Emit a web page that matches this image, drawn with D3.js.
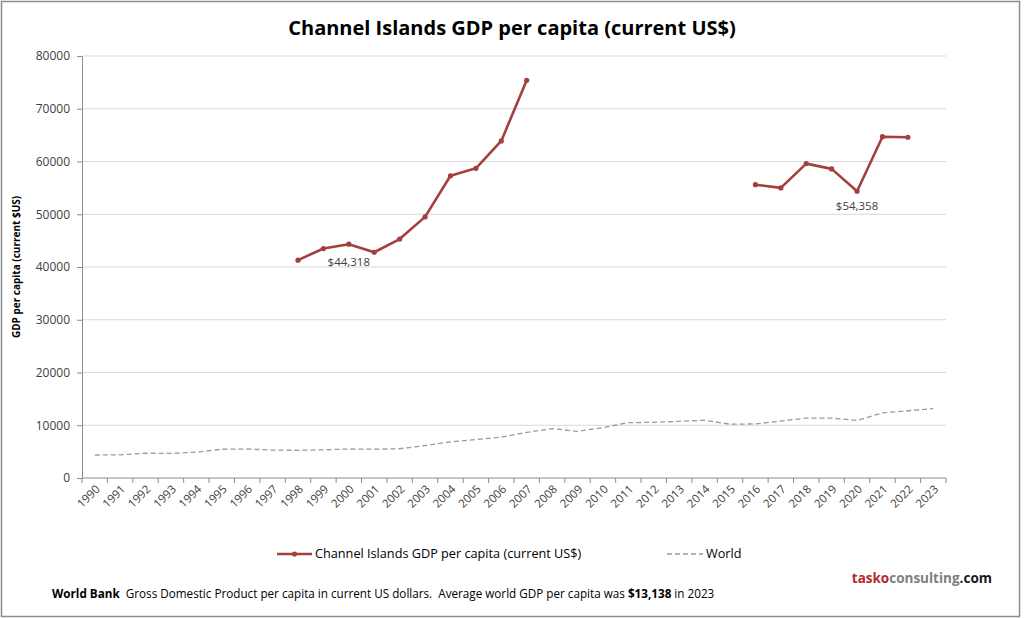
<!DOCTYPE html>
<html>
<head>
<meta charset="utf-8">
<script src="https://cdn.jsdelivr.net/npm/d3@7"></script>
<style>
  body { margin: 0; background: #fff; }
  text { font-family: "Open Sans", Lato, sans-serif; }
</style>
</head>
<body>
<div id="chart"></div>
<script>
// years on the category axis
var years = d3.range(1990, 2024).map(String);

// Channel Islands GDP per capita, current US$ (null = no data)
var channelValues = [null, null, null, null, null, null, null, null,
  41300, 43500, 44318, 42800, 45300, 49500, 57300, 58700, 63900, 75400,
  null, null, null, null, null, null, null, null,
  55600, 55000, 59600, 58600, 54358, 64700, 64600, null];

// World GDP per capita, current US$
var worldValues = [4350, 4400, 4700, 4650, 4900, 5450, 5500, 5300, 5250, 5350,
  5500, 5450, 5550, 6150, 6850, 7300, 7750, 8650, 9350, 8850,
  9550, 10500, 10550, 10750, 10950, 10200, 10250, 10800, 11350, 11350,
  10900, 12350, 12750, 13138];

var yTicks = [0, 10000, 20000, 30000, 40000, 50000, 60000, 70000, 80000];

// labelled points
var callouts = [{year: "2000", value: 44318, dx: 0, dy: 22}, {year: "2020", value: 54358, dx: 0, dy: 19}];

var width = 1024, height = 618;
var margin = {top: 56, right: 78, bottom: 140, left: 82};
var red = "#a3403d";

var svg = d3.select("#chart").append("svg")
    .attr("width", width)
    .attr("height", height);

svg.append("rect")
    .attr("x", 1.5).attr("y", 1.5)
    .attr("width", width - 6).attr("height", height - 3)
    .attr("fill", "#fff")
    .attr("stroke", "#8c8c8c")
    .attr("stroke-width", 1.5);

var x = d3.scaleBand()
    .domain(years)
    .range([margin.left, width - margin.right]);

var y = d3.scaleLinear()
    .domain([0, 80000])
    .range([height - margin.bottom, margin.top]);

// gridlines
svg.append("g")
    .selectAll("line")
    .data(yTicks.slice(1))
    .enter().append("line")
    .attr("x1", margin.left).attr("x2", width - margin.right)
    .attr("y1", function(d){ return y(d); })
    .attr("y2", function(d){ return y(d); })
    .attr("stroke", "#d9d9d9")
    .attr("stroke-width", 1);

// y axis
var yAxis = svg.append("g")
    .attr("transform", "translate(" + margin.left + ",0)")
    .call(d3.axisLeft(y).tickValues(yTicks).tickSize(5).tickPadding(7).tickFormat(d3.format("d")));
yAxis.select(".domain").attr("stroke", "#8c8c8c");
yAxis.selectAll(".tick line").attr("stroke", "#8c8c8c");
yAxis.selectAll("text")
    .style("font-size", "12px")
    .style("font-family", "'Open Sans', sans-serif")
    .attr("fill", "#404040");

// x axis: ticks on category boundaries
var xg = svg.append("g")
    .attr("transform", "translate(0," + y(0) + ")");
xg.append("line")
    .attr("x1", margin.left).attr("x2", width - margin.right)
    .attr("stroke", "#8c8c8c");
xg.selectAll(".tk")
    .data(years.concat(["end"]))
    .enter().append("line")
    .attr("x1", function(d, i){ return margin.left + i * x.step(); })
    .attr("x2", function(d, i){ return margin.left + i * x.step(); })
    .attr("y1", 0).attr("y2", 5)
    .attr("stroke", "#8c8c8c");
xg.selectAll("text")
    .data(years)
    .enter().append("text")
    .attr("transform", function(d){
        return "translate(" + (x(d) + x.bandwidth() / 2 + 3) + ",9) rotate(-45)";
    })
    .attr("text-anchor", "end")
    .attr("dy", "0.35em")
    .style("font-size", "11.5px")
    .attr("fill", "#404040")
    .text(function(d){ return d; });

// y axis title
svg.append("text")
    .attr("transform", "translate(20," + ((y(0) + y(80000)) / 2) + ") rotate(-90)")
    .attr("text-anchor", "middle")
    .style("font-size", "10px")
    .style("font-weight", "bold")
    .attr("fill", "#000")
    .text("GDP per capita (current $US)");

// title
svg.append("text")
    .attr("x", 512).attr("y", 35)
    .attr("text-anchor", "middle")
    .style("font-size", "20px")
    .style("font-weight", "bold")
    .attr("fill", "#000")
    .text("Channel Islands GDP per capita (current US$)");

var cx = function(d, i){ return x(years[i]) + x.bandwidth() / 2; };

// world line
svg.append("path")
    .datum(worldValues)
    .attr("d", d3.line().x(cx).y(function(d){ return y(d); }))
    .attr("fill", "none")
    .attr("stroke", "#9a9a9a")
    .attr("stroke-width", 1.3)
    .attr("stroke-dasharray", "5,3");

// channel islands line
svg.append("path")
    .datum(channelValues)
    .attr("d", d3.line()
        .defined(function(d){ return d != null; })
        .x(cx).y(function(d){ return y(d); }))
    .attr("fill", "none")
    .attr("stroke", red)
    .attr("stroke-width", 2.6)
    .attr("stroke-linejoin", "round");

svg.append("g")
    .selectAll("circle")
    .data(channelValues.map(function(v, i){ return {v: v, i: i}; }).filter(function(d){ return d.v != null; }))
    .enter().append("circle")
    .attr("cx", function(d){ return cx(null, d.i); })
    .attr("cy", function(d){ return y(d.v); })
    .attr("r", 2.6)
    .attr("fill", red);

// callouts
svg.append("g")
    .selectAll("text")
    .data(callouts)
    .enter().append("text")
    .attr("x", function(d){ return x(d.year) + x.bandwidth() / 2 + d.dx; })
    .attr("y", function(d){ return y(d.value) + d.dy; })
    .attr("text-anchor", "middle")
    .style("font-size", "11.5px")
    .attr("fill", "#404040")
    .text(function(d){ return "$" + d3.format(",")(d.value); });

// legend
var lg = svg.append("g").attr("transform", "translate(0,554)");
lg.append("line").attr("x1", 277).attr("x2", 312).attr("stroke", red).attr("stroke-width", 2.6);
lg.append("circle").attr("cx", 294.5).attr("r", 2.6).attr("fill", red);
lg.append("text").attr("x", 315).attr("dy", "0.35em")
    .style("font-size", "12.7px").attr("fill", "#000")
    .text("Channel Islands GDP per capita (current US$)");
lg.append("line").attr("x1", 667).attr("x2", 703)
    .attr("stroke", "#9a9a9a").attr("stroke-width", 1.3).attr("stroke-dasharray", "5,3");
lg.append("text").attr("x", 706).attr("dy", "0.35em")
    .style("font-size", "12.7px").attr("fill", "#000")
    .text("World");

// footer
var ft = svg.append("text")
    .attr("x", 52).attr("y", 598)
    .attr("xml:space", "preserve")
    .style("font-size", "11.7px")
    .attr("fill", "#000");
ft.append("tspan").style("font-weight", "bold").text("World Bank");
ft.append("tspan").text("  Gross Domestic Product per capita in current US dollars.  Average world GDP per capita was ");
ft.append("tspan").style("font-weight", "bold").text("$13,138");
ft.append("tspan").text(" in 2023");

var brand = svg.append("text")
    .attr("x", 992).attr("y", 583)
    .attr("text-anchor", "end")
    .style("font-size", "13.5px")
    .style("font-weight", "bold");
brand.append("tspan").attr("fill", "#b22a2a").text("tasko");
brand.append("tspan").attr("fill", "#808080").text("consulting");
brand.append("tspan").attr("fill", "#1a1a1a").text(".com");
</script>
</body>
</html>
